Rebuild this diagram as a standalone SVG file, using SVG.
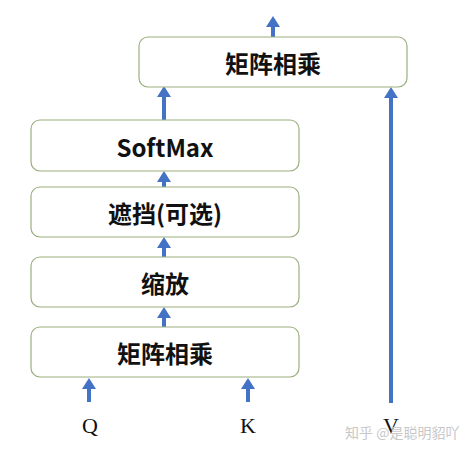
<svg xmlns="http://www.w3.org/2000/svg" width="476" height="452" viewBox="0 0 476 452">
<style>
.box{fill:#fff;stroke:#9aaf7e;stroke-width:1.2}
.t{font-family:"Noto Sans CJK SC","Noto Sans",sans-serif;font-size:24px;font-weight:bold;fill:#111;text-anchor:middle;dominant-baseline:central}
.lbl{font-family:"Liberation Serif",serif;font-size:22px;fill:#111;text-anchor:middle}
.c{stroke:#4472c4;stroke-width:4;fill:none}
.wm{font-family:"Noto Sans CJK SC",sans-serif;font-size:14px;fill:#c8c8c8}
</style>
<g id="connectors">
<line class="c" x1="273" y1="37" x2="273" y2="26"/>
<path d="M266,27 L273,16 L280,27 Z" fill="#4472c4"/>
<line class="c" x1="164" y1="120" x2="164" y2="96"/>
<path d="M157,97 L164,86 L171,97 Z" fill="#4472c4"/>
<line class="c" x1="164" y1="187" x2="164" y2="181"/>
<path d="M157,182 L164,171 L171,182 Z" fill="#4472c4"/>
<line class="c" x1="164" y1="257" x2="164" y2="247"/>
<path d="M157,248 L164,237 L171,248 Z" fill="#4472c4"/>
<line class="c" x1="164" y1="327" x2="164" y2="317"/>
<path d="M157,318 L164,307 L171,318 Z" fill="#4472c4"/>
<line class="c" x1="89" y1="402" x2="89" y2="388"/>
<path d="M82,389 L89,378 L96,389 Z" fill="#4472c4"/>
<line class="c" x1="248" y1="402" x2="248" y2="388"/>
<path d="M241,389 L248,378 L255,389 Z" fill="#4472c4"/>
<line class="c" x1="391" y1="403" x2="391" y2="97"/>
<path d="M384,98 L391,87 L398,98 Z" fill="#4472c4"/>
</g>
<g id="matmul2"><rect class="box" x="139" y="37" width="268" height="50" rx="9"/><text class="t" x="273" y="62">矩阵相乘</text></g>
<g id="softmax"><rect class="box" x="31" y="120" width="268" height="51" rx="9"/><text class="t" x="165" y="146">SoftMax</text></g>
<g id="mask"><rect class="box" x="31" y="187" width="268" height="50" rx="9"/><text class="t" x="165" y="212">遮挡(可选)</text></g>
<g id="scale"><rect class="box" x="31" y="257" width="268" height="50" rx="9"/><text class="t" x="165" y="282">缩放</text></g>
<g id="matmul1"><rect class="box" x="31" y="327" width="268" height="50" rx="9"/><text class="t" x="165" y="352">矩阵相乘</text></g>
<g id="inputs">
<text class="lbl" x="90" y="433">Q</text>
<text class="lbl" x="248" y="433">K</text>
<text class="lbl" x="391" y="433">V</text>
</g>
<text class="wm" x="345" y="438">知乎 @是聪明貂吖</text>
</svg>
